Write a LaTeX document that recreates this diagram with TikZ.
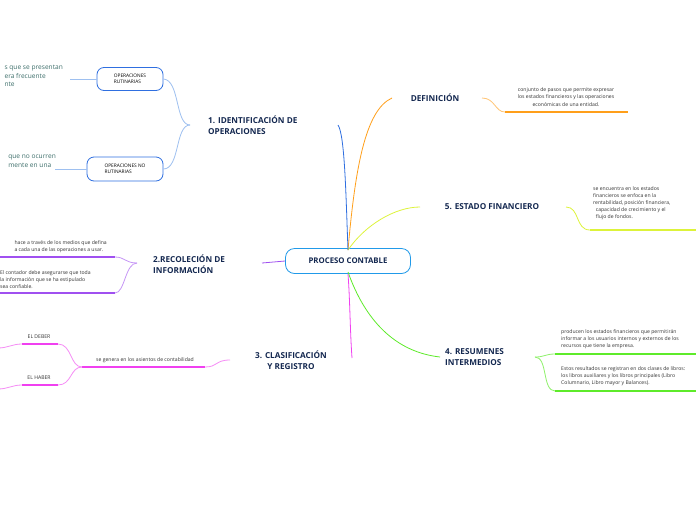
\documentclass[tikz,border=0pt]{standalone}
\usepackage{fontspec}
\setmainfont{Open Sans}
\begin{document}
\begin{tikzpicture}[x=1pt,y=-1pt,
  main/.style={font=\bfseries\fontsize{8.2}{10.5}\selectfont,text=navy,align=left,inner sep=0},
  tiny/.style={font=\fontsize{5.1}{7.2}\selectfont,text=black!80,inner sep=0},
  teal/.style={font=\fontsize{6.6}{8.6}\selectfont,text=tealc,align=left,inner sep=0},
  lnk/.style={line width=0.8pt},
  ul/.style={line width=1.4pt}]
\definecolor{navy}{HTML}{142850}
\definecolor{tealc}{HTML}{3E6F6B}
\definecolor{cO}{HTML}{FF9F1A}
\definecolor{cY}{HTML}{DDF33A}
\definecolor{cG}{HTML}{5EEB2A}
\definecolor{cM}{HTML}{F040F0}
\definecolor{cP}{HTML}{A050F0}
\definecolor{cB}{HTML}{2F6FE0}
\definecolor{cLB}{HTML}{9EC0F0}
\useasboundingbox (0,0) rectangle (696,520);
\clip (0,0) rectangle (696,520);
\fill[white] (0,0) rectangle (696,520);
% center
\node[draw=cB!70!cyan,line width=0.8pt,rounded corners=9pt,minimum width=125pt,minimum height=25pt,font=\bfseries\fontsize{7.8}{9}\selectfont,text=navy] (pc) at (348,261) {PROCESO CONTABLE};
\coordinate (o) at (348,250);
% DEFINICION
\node[main] (def) at (435,98) {DEFINICIÓN};
\draw[cO,lnk] (o) .. controls (355,170) and (365,110) .. (392,98);
\coordinate (d1) at (482,98); \coordinate (d2) at (505,112); \coordinate (d3) at (628,112);
\draw[cO!60,lnk] (d1) .. controls (495,98) and (495,112) .. (d2);
\draw[cO,ul] (d2) -- (d3);
\node[tiny,align=center] (dt) at (566,97) {conjunto de pasos que permite expresar\\los estados financieros y las operaciones\\económicas de una entidad.};
% ESTADO FINANCIERO
\node[main] (ef) at (492,207) {5. ESTADO FINANCIERO};
\draw[cY,lnk] (o) .. controls (365,225) and (395,207) .. (420,207);
\coordinate (e1) at (566,207); \coordinate (e2) at (590,230); \coordinate (e3) at (696,230);
\draw[cY,lnk] (e1) .. controls (580,207) and (575,230) .. (e2);
\draw[cY,ul] (e2) -- (e3);
\node[tiny,align=left,anchor=north west] (et) at (593,186) {se encuentra en los estados\\financieros se enfoca en la\\rentabilidad, posición financiera,\\\ \ capacidad de crecimiento y el\\\ \ flujo de fondos.};
% RESUMENES
\node[main,anchor=west] (ri) at (445,357) {4. RESUMENES\\INTERMEDIOS};
\draw[cG,lnk] (348,272) .. controls (365,320) and (395,352) .. (440,357);
\coordinate (r1) at (535,357);
\coordinate (r2) at (555,354); \coordinate (r3) at (555,391);
\draw[cG!70,lnk] (r1) .. controls (545,357) and (545,354) .. (r2);
\draw[cG!70,lnk] (r1) .. controls (548,357) and (542,391) .. (r3);
\draw[cG,ul] (r2) -- (696,354);
\draw[cG,ul] (r3) -- (696,391);
\node[tiny,align=left,anchor=south west] (rt1) at (561,349) {producen los estados financieros que permitirán\\informar a los usuarios internos y externos de los\\recursos que tiene la empresa.};
\node[tiny,align=left,anchor=south west] (rt2) at (561,386) {Estos resultados se registran en dos clases de libros:\\los libros auxiliares y los libros principales (Libro\\Columnario, Libro mayor y Balances).};
% CLASIFICACION
\node[main,align=center] (cr) at (291,360) {3. CLASIFICACIÓN\\Y REGISTRO};
\draw[cM,lnk] (348,274) .. controls (350,300) and (350,330) .. (352,358);
\coordinate (c1) at (230,360); \coordinate (c2) at (205,367); \coordinate (c3) at (82,367);
\draw[cM!60,lnk] (c1) .. controls (215,360) and (218,367) .. (c2);
\draw[cM,ul] (c2) -- (c3);
\node[tiny] (ct) at (145,360) {se genera en los asientos de contabilidad};
\coordinate (b1) at (58,344); \coordinate (b2) at (22,344);
\coordinate (h1) at (58,385); \coordinate (h2) at (22,385);
\draw[cM!60,lnk] (c3) .. controls (70,367) and (72,344) .. (b1);
\draw[cM!60,lnk] (c3) .. controls (70,367) and (72,385) .. (h1);
\draw[cM,ul] (b1) -- (b2); \draw[cM,ul] (h1) -- (h2);
\node[tiny] (eb) at (39,337) {EL DEBER};
\node[tiny] (eh) at (39,378) {EL HABER};
\draw[cM!60,lnk] (b2) .. controls (12,344) and (8,348) .. (-2,348);
\draw[cM!60,lnk] (h2) .. controls (12,385) and (8,389) .. (-2,389);
% RECOLECCION
\node[main,anchor=west] (rc) at (153,264) {2.RECOLECIÓN DE\\INFORMACIÓN};
\draw[cP,lnk] (pc.west) -- (262,263);
\coordinate (p1) at (137,263); \coordinate (p2) at (115,257); \coordinate (p3) at (115,293);
\draw[cP!60,lnk] (p1) .. controls (125,263) and (125,257) .. (p2);
\draw[cP!60,lnk] (p1) .. controls (125,263) and (125,293) .. (p3);
\draw[cP,ul] (p2) -- (0,257); \draw[cP,ul] (p3) -- (0,293);
\node[tiny,align=left,anchor=south east] (pt1) at (107,253) {hace a través de los medios que defina\\a cada una de las operaciones a usar.};
\node[tiny,align=left,anchor=south west] (pt2) at (-4,289) {\ \ \ El contador debe asegurarse que toda\\\ \ \ la información que se ha estipulado\\\ \ \ sea confiable.};
% IDENTIFICACION
\node[main,anchor=west] (id) at (208,125) {1. IDENTIFICACIÓN DE\\OPERACIONES};
\draw[cB,lnk] (o) .. controls (346,200) and (345,135) .. (338,125);
\node[draw=cB,line width=0.8pt,rounded corners=7pt,minimum width=66pt,minimum height=23pt,font=\fontsize{4.8}{6.2}\selectfont,align=left] (or) at (130,79) {OPERACIONES\\RUTINARIAS};
\node[draw=cB,line width=0.8pt,rounded corners=7pt,minimum width=76pt,minimum height=24pt,font=\fontsize{4.8}{6.2}\selectfont,align=left] (onr) at (125,169) {OPERACIONES NO\\RUTINARIAS};
\coordinate (i1) at (190,125);
\draw[cLB,lnk] (i1) .. controls (175,125) and (180,80) .. (or.east);
\draw[cLB,lnk] (i1) .. controls (175,125) and (180,169) .. (onr.east);
\draw[cLB,lnk] (or.west) -- (70,79);
\draw[cLB,lnk] (onr.west) -- (55,169);
\node[teal,anchor=north east] (t1) at (63,65) {s que se presentan\\era frecuente\\nte};
\node[teal,anchor=north east] (t2) at (56,155) {que no ocurren\\mente en una};
\end{tikzpicture}
\end{document}
